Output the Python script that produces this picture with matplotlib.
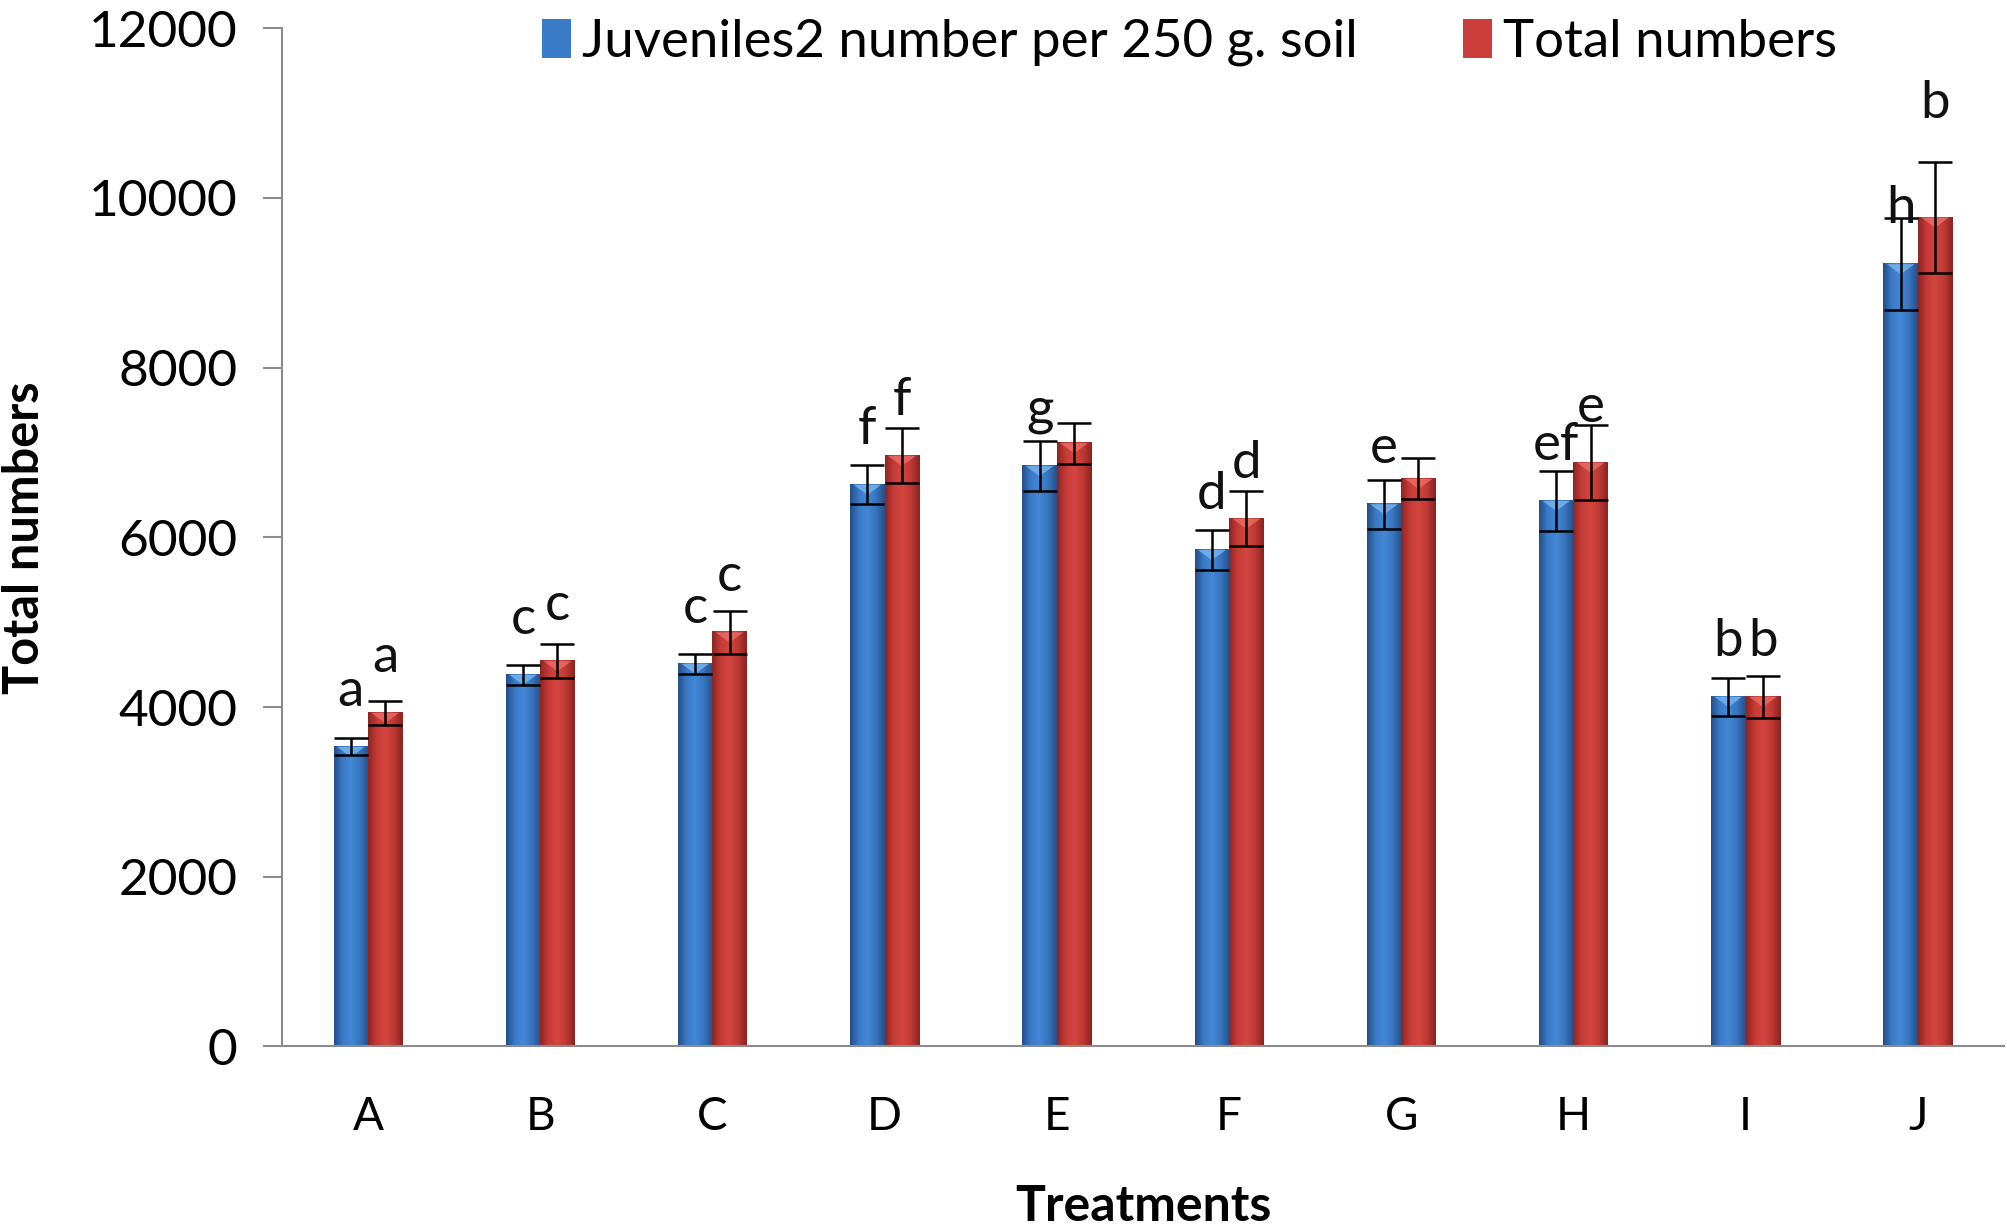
import numpy as np
import matplotlib
matplotlib.use("Agg")
import matplotlib.pyplot as plt
from matplotlib.colors import LinearSegmentedColormap
from matplotlib.patches import Polygon

# data
treatments = ["A", "B", "C", "D", "E", "F", "G", "H", "I", "J"]
juv_mean = [3530, 4380, 4510, 6620, 6840, 5850, 6390, 6430, 4120, 9220]
juv_err = [100, 120, 120, 230, 290, 240, 290, 350, 225, 545]
total_mean = [3930, 4540, 4880, 6960, 7110, 6220, 6690, 6880, 4120, 9770]
total_err = [140, 200, 255, 325, 240, 325, 240, 445, 250, 650]
juv_letters = ["a", "c", "c", "f", "g", "d", "e", "ef", "b", "h"]
total_letters = ["a", "c", "c", "f", "", "d", "", "e", "b", "b"]

series_names = ["Juveniles2 number per 250 g. soil", "Total numbers"]

plt.rcParams['font.family'] = ['Lato', 'DejaVu Sans']

fig = plt.figure(figsize=(20.08, 12.31), dpi=100)
ax = fig.add_axes([0.1404, 0.150, 0.8576, 0.827])

x = np.arange(len(treatments))
w = 0.2

blue_cmap = LinearSegmentedColormap.from_list(
    "blue_cyl", ["#244f88", "#3a7bc8", "#4287d6", "#3874bd", "#24508a"])
red_cmap = LinearSegmentedColormap.from_list(
    "red_cyl", ["#8e2623", "#c63b37", "#d4453f", "#bf3934", "#8a2421"])

b1 = ax.bar(x - w / 2, juv_mean, w, color="#3a7bc8", label=series_names[0], zorder=2)
b2 = ax.bar(x + w / 2, total_mean, w, color="#cc3e3a", label=series_names[1], zorder=2)

# cylinder-like shading on each bar, with a small bevel highlight on top
grad = np.linspace(0, 1, 64).reshape(1, -1)
for bars, cmap, hi in [(b1, blue_cmap, "#79b6f0"), (b2, red_cmap, "#ec6e66")]:
    for r in bars:
        x0, x1, h = r.get_x(), r.get_x() + r.get_width(), r.get_height()
        ax.imshow(grad, cmap=cmap, aspect="auto", zorder=2.5, extent=(x0, x1, 0, h))
        ax.add_patch(Polygon([(x0 + 0.02, h), (x1 - 0.02, h), ((x0 + x1) / 2, h - 120)],
                             closed=True, facecolor=hi, edgecolor="none", alpha=0.8, zorder=2.6))

ax.errorbar(x - w / 2, juv_mean, yerr=juv_err, fmt="none", ecolor="black",
            elinewidth=1.8, capsize=12, capthick=1.8, zorder=4)
ax.errorbar(x + w / 2, total_mean, yerr=total_err, fmt="none", ecolor="black",
            elinewidth=1.8, capsize=12, capthick=1.8, zorder=4)

# significance letters
extra_lift = {(9, 1): 42}
for i in range(len(treatments)):
    for s, (means, letters) in enumerate([(juv_mean, juv_letters), (total_mean, total_letters)]):
        if not letters[i]:
            continue
        xi = x[i] - w / 2 if s == 0 else x[i] + w / 2
        lift = 40 + extra_lift.get((i, s), 0)
        ax.annotate(letters[i], (xi, means[i]), xytext=(0, lift), textcoords="offset points",
                    ha="center", va="center", fontsize=38, color="#111111", zorder=5)

ax.set_xlim(-0.5, len(treatments) - 0.5)
ax.set_ylim(0, 12000)
ax.set_yticks(np.arange(0, 12001, 2000))
ax.set_xticks(x)
ax.set_xticklabels(treatments)

for side in ["top", "right"]:
    ax.spines[side].set_visible(False)
for side in ["left", "bottom"]:
    ax.spines[side].set_color("#8c8c8c")
    ax.spines[side].set_linewidth(1.5)

ax.tick_params(axis="y", length=14, width=1.5, color="#8c8c8c", labelsize=37, pad=18)
ax.tick_params(axis="x", length=0, labelsize=33, pad=36)

ax.set_ylabel("Total numbers", fontsize=35, fontweight="bold")
ax.yaxis.set_label_coords(-0.1365, 0.5)
ax.set_xlabel("Treatments", fontsize=36, fontweight="bold", va="top")
ax.xaxis.set_label_coords(0.5, -0.135)

leg = ax.legend(loc="center", bbox_to_anchor=(0.527, 0.986), ncol=2, frameon=False,
                fontsize=38, handlelength=0.55, handleheight=0.75, handletextpad=0.2,
                columnspacing=2.0)

fig.savefig("out.png", dpi=100)
